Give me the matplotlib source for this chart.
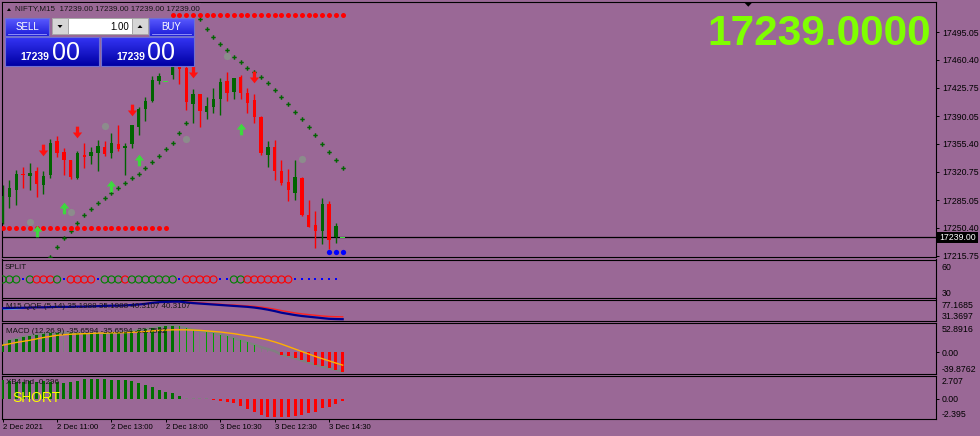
import numpy as np
import matplotlib
matplotlib.use("Agg")
import matplotlib.pyplot as plt
from matplotlib.patches import Rectangle, Polygon
from matplotlib.path import Path
from matplotlib.colors import LinearSegmentedColormap

plt.rcParams['font.family'] = ['Liberation Sans', 'DejaVu Sans']

# ---- data (NIFTY M15) ----
opens = [17256, 17289.5, 17298, 17318, 17315.5, 17321, 17304, 17316.5, 17358.5, 17345.5,
         17335.5, 17312.5, 17341, 17340.5, 17344.5, 17351, 17344.5, 17355, 17350, 17355,
         17377, 17399, 17409.5, 17434.5, 17433.5, 17441.5, 17451.5, 17450, 17405.5, 17418,
         17396, 17402, 17411.5, 17434, 17420, 17439, 17419.5, 17410.5, 17389, 17341.5,
         17351.5, 17321.5, 17307.5, 17294.5, 17312.5, 17266.5, 17254, 17246, 17280.5, 17239.5,
         17239]
highs = [17304, 17310.5, 17323, 17326, 17331.5, 17327, 17321, 17361.5, 17365.5, 17350,
         17335.5, 17346, 17356.5, 17351.5, 17360.5, 17359, 17369.5, 17379, 17356.5, 17379.5,
         17402, 17414.5, 17440.5, 17444, 17434.5, 17457, 17454, 17453, 17424, 17418,
         17414, 17425, 17437.5, 17445, 17438.5, 17441.5, 17426, 17417.5, 17390.5, 17358.5,
         17360.5, 17335.5, 17324, 17335.5, 17313.5, 17285.5, 17271, 17287.5, 17283.5, 17256.5,
         17239.5]
lows = [17255, 17275, 17279, 17300, 17298, 17289, 17293, 17312.5, 17339.5, 17316,
        17311, 17311, 17325, 17330.5, 17322, 17340.5, 17337.5, 17347, 17316.5, 17350,
        17366.5, 17384.5, 17408, 17431, 17433, 17436.5, 17430, 17398, 17382, 17376.5,
        17386.5, 17394.5, 17391.5, 17409, 17411.5, 17411.5, 17394.5, 17382, 17341.5, 17326,
        17310.5, 17303.5, 17283.5, 17285.5, 17265.5, 17251, 17225, 17230.5, 17224, 17232,
        17239]
closes = [17290, 17300, 17318, 17316, 17319.5, 17305.5, 17315.5, 17357, 17344, 17335.5,
          17314, 17344, 17338.5, 17345.5, 17353, 17343, 17356.5, 17349, 17353, 17379,
          17399, 17409.5, 17435.5, 17441, 17433.5, 17452, 17449, 17408.5, 17418, 17397,
          17403, 17411.5, 17433.5, 17419, 17437.5, 17419, 17406.5, 17389.5, 17344, 17351,
          17322, 17307, 17298, 17314, 17266.5, 17252, 17246, 17280.5, 17235.5, 17253,
          17239]
current_price = 17239

# parabolic SAR (rising then falling)
sar_up_idx = list(range(7, 28))
sar_up = [17214.5, 17226.2, 17237.5, 17247.0, 17257.0, 17266.6, 17274.1, 17281.2, 17288.2, 17293.7,
          17300.7, 17307.0, 17312.5, 17317.5, 17325.0, 17332.5, 17340.7, 17349.1, 17357.0, 17369.5,
          17381.2]
sar_dn_idx = list(range(29, 51))
sar_dn = [17511.3, 17499.2, 17489.5, 17480.0, 17472.7, 17463.9, 17457.5, 17450.0, 17445.4, 17439.5,
          17431.3, 17422.9, 17413.8, 17405.4, 17395.0, 17386.6, 17377.0, 17366.4, 17355.4, 17345.0,
          17335.4, 17325.8]

# level dots
red_top_idx = list(range(25, 51))
red_top_level = 17517.0
red_low_idx = list(range(0, 25))
red_low_level = 17250.8
blue_idx = [48, 49, 50]
blue_level = 17220.0

gray_idx = [4, 10, 15, 27, 33, 44]
gray_val = [17257.5, 17270.7, 17377.9, 17362.0, 17465.4, 17336.6]
down_idx = [6, 11, 19, 28, 37]
down_val = [17347.3, 17370.0, 17397.9, 17445.4, 17439.2]
up_idx = [5, 9, 16, 20, 35]
up_val = [17247.0, 17275.7, 17302.9, 17335.4, 17374.1]

price_ticks = [17495.05, 17460.40, 17425.75, 17390.05, 17355.40, 17320.75, 17285.05, 17250.40, 17215.75]

# SPLIT indicator: g = green ring, r = red ring, b = blue dot
split_state = ['g', 'g', 'g', 'b', 'g', 'r', 'r', 'r', 'g', 'b',
               'r', 'r', 'r', 'r', 'b', 'g', 'g', 'g', 'r', 'g',
               'g', 'g', 'g', 'g', 'g', 'g', 'b', 'r', 'r', 'r',
               'r', 'r', 'b', 'b', 'g', 'g', 'r', 'r', 'r', 'r',
               'r', 'r', 'r', 'b', 'b', 'b', 'b', 'b', 'b', 'b']
split_level = 45

# QQE
qqe_blue = [58.5, 59, 59.5, 59.5, 60, 60.5, 60.5, 61, 61.5, 61.5,
            61.5, 62, 62, 62.5, 63, 63.5, 64, 64, 64.5, 65.5,
            66.5, 68, 70, 71.5, 72, 72.5, 72.5, 71, 69.5, 68.5,
            67.5, 66.5, 65.5, 64.5, 63.5, 62.5, 61.5, 60, 58, 55.5,
            52.5, 49, 46.5, 44, 42, 40.5, 39, 37.5, 36, 35.5, 35.2]
qqe_red = [58.5, 59, 59.5, 59.5, 60, 60.5, 60.5, 61, 61.5, 61.5,
           61.5, 62, 62, 62.5, 63, 63.5, 64, 64, 64.5, 65.5,
           66.5, 68, 70, 71.5, 72, 72.5, 72.8, 72, 71, 70,
           69, 68, 67, 66, 65.5, 64.5, 63.5, 62.5, 61, 59,
           56.5, 53.5, 51, 48.5, 46.5, 45, 43.5, 42, 41, 40.5, 40.3]
qqe_cyan = [56.5, 57, 57.5, 58.5]

# MACD (12,26,9)
macd_hist = [13.3, 21.1, 23.6, 27.3, 29.7, 31.5, 33.3, 34.5, 34.5, 35.7,
             34.5, 34.5, 33.3, 33.3, 34.5, 33.3, 34.5, 35.7, 35.7, 37.5,
             40.6, 41.8, 43.6, 45.5, 46.6, 47.8, 46.6, 43.6, 40.6, 38.7,
             36.4, 34.5, 31.5, 28.4, 25.5, 21.1, 17.5, 13.3, 9.1, 5.5,
             1.8, -4.9, -8.0, -10.9, -15.3, -18.9, -23.1, -26.2, -29.1, -32.2, -35.66]
macd_signal = [12.5, 15, 17.5, 19.5, 21.5, 24, 26.5, 28.5, 30.5, 31.5,
               32.5, 33, 33.5, 34, 34.5, 34.5, 35, 35, 35.5, 36,
               36.5, 37.5, 38.5, 39.5, 40, 40.5, 40.5, 40.5, 40, 39.5,
               38.5, 37.5, 36.5, 35, 33.5, 31.5, 29.5, 27.5, 25, 22,
               18.5, 14.5, 10, 5.5, 1, -3.5, -8, -12, -16, -20, -23.75]
macd_kind = ['G'] * 9 + ['N'] + ['G'] * 16 + ['T'] * 3 + ['N'] + ['T'] * 8 + ['N'] * 3 + ['R'] * 10

# XB4 ind
xb4 = [2.23, 2.15, 2.03, 1.96, 2.11, 2.03, 2.1, 2.0, 1.96, 1.9,
       2.0, 2.1, 2.3, 2.3, 2.3, 2.3, 2.23, 2.23, 2.23, 2.1,
       1.9, 1.64, 1.44, 1.04, 0.84, 0.65, 0.3, 0.06, 0.06, 0.06,
       0.06, -0.1, -0.2, -0.34, -0.46, -0.85, -1.25, -1.53, -1.92, -2.12,
       -2.2, -2.2, -2.12, -2.04, -1.92, -1.72, -1.53, -1.13, -1.0, -0.62, -0.296]
xb4_kind = ['G'] * 27 + ['N'] * 4 + ['R'] * 20

time_idx = [0, 8, 16, 24, 32, 40, 48]
time_labels = ['2 Dec 2021', '2 Dec 11:00', '2 Dec 13:00', '2 Dec 18:00',
               '3 Dec 10:30', '3 Dec 12:30', '3 Dec 14:30']

# ---- style ----
W, H = 980, 436
bg = '#9a6896'
green = '#006400'
red = '#ff0000'
txt = '#151515'

fig = plt.figure(figsize=(W / 100, H / 100), dpi=100, facecolor=bg)


def panel(y0, y1):
    ax = fig.add_axes([2 / W, 1 - y1 / H, 934 / W, (y1 - y0) / H])
    ax.set_facecolor(bg)
    ax.set_xlim(-0.1, 137.25)
    ax.set_xticks([])
    ax.yaxis.tick_right()
    ax.tick_params(axis='y', length=2.2, width=0.7, pad=2, labelsize=6.3, colors='black')
    for s in ax.spines.values():
        s.set_color('black')
        s.set_linewidth(0.8)
    return ax


x = np.arange(len(opens))

# main price panel
ax = panel(2, 257)
ax.set_ylim(17214.1, 17532.9)
ax.set_yticks(price_ticks, ['%.2f' % t for t in price_ticks])

for i in range(len(opens)):
    o, h, l, c = opens[i], highs[i], lows[i], closes[i]
    if c > o:
        col = green
    elif c < o:
        col = red
    else:
        col = '#3ee03e'
    if c == o:
        ax.bar(x[i], 1.25, bottom=o - 0.6, width=0.75, color=col, lw=0, zorder=3)
        continue
    ax.vlines(x[i], l, h, color=col, lw=1, zorder=2)
    ax.bar(x[i], max(abs(c - o), 1.25), bottom=min(o, c), width=0.5, color=col, lw=0, zorder=3)

ax.axhline(current_price, color='black', lw=0.9, zorder=1)

ax.plot(sar_up_idx, sar_up, 'P', color=green, ms=3.2, mew=0, zorder=4)
ax.plot(sar_dn_idx, sar_dn, 'P', color=green, ms=3.2, mew=0, zorder=4)
ax.plot(red_top_idx, [red_top_level] * len(red_top_idx), 'o', color=red, ms=3.6, mew=0, zorder=4)
ax.plot(red_low_idx, [red_low_level] * len(red_low_idx), 'o', color=red, ms=3.6, mew=0, zorder=4)
ax.plot(blue_idx, [blue_level] * len(blue_idx), 'o', color='#0000ff', ms=3.8, mew=0, zorder=4)
ax.plot(gray_idx, gray_val, 'o', color='#8c8c8c', ms=5.2, mew=0, zorder=4)

up_arrow = Path([(-0.4, 0.0), (0, 0.5), (0.4, 0.0), (0.14, 0.0), (0.14, -0.5),
                 (-0.14, -0.5), (-0.14, 0.0), (-0.4, 0.0)])
down_arrow = Path([(-0.4, 0.0), (0, -0.5), (0.4, 0.0), (0.14, 0.0), (0.14, 0.5),
                   (-0.14, 0.5), (-0.14, 0.0), (-0.4, 0.0)])
ax.plot(up_idx, up_val, linestyle='none', marker=up_arrow, color='#3ed83e', ms=8.4, mew=0, zorder=5)
ax.plot(down_idx, down_val, linestyle='none', marker=down_arrow, color='#ff1010', ms=8.4, mew=0, zorder=5)

# SPLIT panel
ax_s = panel(259.5, 297.5)
ax_s.set_ylim(23.9, 68.4)
ax_s.set_yticks([60, 30], ['60', '30'])
ax_s.tick_params(axis='y', length=0, pad=4.3)
ring_idx = [i for i, s in enumerate(split_state) if s != 'b']
ring_col = ['#008000' if split_state[i] == 'g' else red for i in ring_idx]
dot_idx = [i for i, s in enumerate(split_state) if s == 'b']
ax_s.scatter(ring_idx, [split_level] * len(ring_idx), s=26, facecolors='none',
             edgecolors=ring_col, linewidths=0.8, zorder=3)
ax_s.scatter(dot_idx, [split_level] * len(dot_idx), s=1.6, marker='s', color='#0000ff', lw=0, zorder=3)

# QQE panel
ax_q = panel(299.5, 321)
ax_q.set_ylim(31.3697, 77.1685)
ax_q.set_yticks([])
ax_q.plot(x, qqe_red, color='#ff2020', lw=1, zorder=2)
ax_q.plot(x, qqe_blue, color='#000090', lw=1.6, zorder=3)
ax_q.plot(x[:len(qqe_cyan)], qqe_cyan, color='#40c0ff', lw=1, zorder=2)

# MACD panel
ax_m = panel(323, 374)
ax_m.set_ylim(-39.8762, 52.8916)
ax_m.set_yticks([0], ['0.00'])
ax_m.plot(x, macd_hist, color='#808080', lw=1.8, zorder=2)
kind_style = {'G': ('#007000', 0.42), 'T': ('#00a000', 0.16), 'N': ('#808080', 0.16), 'R': (red, 0.42)}
for i in range(len(macd_hist)):
    col, w = kind_style[macd_kind[i]]
    ax_m.bar(x[i], macd_hist[i], width=w, color=col, lw=0, zorder=3)
ax_m.plot(x, macd_signal, color='#ffb000', lw=1, zorder=4)

# XB4 panel
ax_x = panel(376, 419)
ax_x.set_ylim(-2.395, 2.707)
ax_x.set_yticks([0], ['0.00'])
xb4_style = {'G': '#007000', 'N': '#808080', 'R': red}
for i in range(len(xb4)):
    ax_x.bar(x[i], xb4[i], width=0.45, color=xb4_style[xb4_kind[i]], lw=0, zorder=3)
ax_x.set_xticks(time_idx, time_labels, ha='left')
ax_x.tick_params(axis='x', length=2.2, width=0.7, pad=1.5, labelsize=5.6, colors='black')

# ---- overlay in pixel coordinates: trade panel, captions, labels ----
ov = fig.add_axes([0, 0, 1, 1])
ov.set_zorder(10)
ov.axis('off')


def grad_box(x0, y0, x1, y1, c_top, c_bot):
    g = np.linspace(0, 1, 32).reshape(-1, 1)
    cmap = LinearSegmentedColormap.from_list('g', [c_top, c_bot])
    ov.imshow(g, extent=(x0, x1, y1, y0), cmap=cmap, aspect='auto', interpolation='bilinear', zorder=2)
    ov.add_patch(Rectangle((x0, y0), x1 - x0, y1 - y0, fc='none', ec='#7070d0', lw=0.8, zorder=3))


# header text background hides the top of the dot row
ov.add_patch(Rectangle((3, 3), 198, 10.3, fc=bg, ec='none', zorder=1))
ov.add_patch(Polygon([(7, 11), (11, 11), (9, 8)], closed=True, fc='black', ec='none', zorder=2))
ov.text(15, 8.5, 'NIFTY,M15  17239.00 17239.00 17239.00 17239.00', fontsize=5.8,
        color=txt, va='center', zorder=3)

grad_box(5, 18, 49, 36, '#5a5aff', '#1e1ed8')
grad_box(149, 18, 194, 36, '#5a5aff', '#1e1ed8')
grad_box(5, 37, 99, 66, '#3434f4', '#0000a4')
grad_box(101, 37, 194, 66, '#3434f4', '#0000a4')
ov.plot([8, 46], [34.3, 34.3], color='#a0a0ff', lw=0.6, zorder=4)
ov.plot([152, 191], [34.3, 34.3], color='#a0a0ff', lw=0.6, zorder=4)
ov.text(27, 26.5, 'SELL', fontsize=7, color='white', ha='center', va='center', zorder=4)
ov.text(171.5, 26.5, 'BUY', fontsize=7, color='white', ha='center', va='center', zorder=4)
ov.text(49, 60, '17239', fontsize=7.5, fontweight='bold', color='white', ha='right', va='baseline', zorder=4)
ov.text(51.5, 60, '00', fontsize=18, color='white', ha='left', va='baseline', zorder=4)
ov.text(145, 60, '17239', fontsize=7.5, fontweight='bold', color='white', ha='right', va='baseline', zorder=4)
ov.text(147, 60, '00', fontsize=18, color='white', ha='left', va='baseline', zorder=4)

ov.add_patch(Rectangle((52, 18), 16, 16, fc='#d6d6d6', ec='#a8a8a8', lw=0.7, zorder=2))
ov.add_patch(Rectangle((68, 18), 64, 16, fc='white', ec='#a8a8a8', lw=0.7, zorder=2))
ov.add_patch(Rectangle((132, 18), 16, 16, fc='#d6d6d6', ec='#a8a8a8', lw=0.7, zorder=2))
ov.add_patch(Polygon([(57.5, 25), (62.5, 25), (60, 28)], closed=True, fc='black', zorder=3))
ov.add_patch(Polygon([(137.5, 28), (142.5, 28), (140, 25)], closed=True, fc='black', zorder=3))
ov.text(129, 26.5, '1.00', fontsize=7, color='black', ha='right', va='center', zorder=3)

ov.text(931, 45, '17239.0000', fontsize=30.5, fontweight='bold', color='#7fff00',
        ha='right', va='baseline', zorder=3)
ov.add_patch(Polygon([(744.5, 2.7), (752, 2.7), (748.3, 6.7)], closed=True, fc='black', zorder=3))

# current price tag on the price scale
ov.add_patch(Rectangle((937, 232), 41, 10.5, fc='black', ec='none', zorder=3))
ov.text(939.5, 237.4, '17239.00', fontsize=6.3, color='white', va='center', zorder=4)

# indicator captions
ov.text(5, 267.5, 'SPLIT', fontsize=5.8, color=txt, va='center', zorder=3)
ov.text(6, 306.5, 'M15 QQE (5,14) 35.1988 35.1988 40.3107 40.3107', fontsize=5.8, color=txt, va='center', zorder=3)
ov.text(6, 331, 'MACD (12,26,9) -35.6594 -35.6594 -23.7532', fontsize=5.8, color=txt, va='center', zorder=3)
ov.text(6, 382, 'XB4 ind -0.296', fontsize=5.8, color=txt, va='center', zorder=3)
ov.text(12, 398, 'SHORT', fontsize=10, color='#ffff00', va='center', zorder=3)

# min / max labels of the indicator scales
for label, ypix in [('77.1685', 305.7), ('31.3697', 316), ('52.8916', 329),
                    ('-39.8762', 369), ('2.707', 381.7), ('-2.395', 414)]:
    ov.text(941.8, ypix, label, fontsize=6.3, color='black', va='center', zorder=3)

ov.set_xlim(0, W)
ov.set_ylim(H, 0)

fig.savefig('out.png', dpi=100, facecolor=bg)
